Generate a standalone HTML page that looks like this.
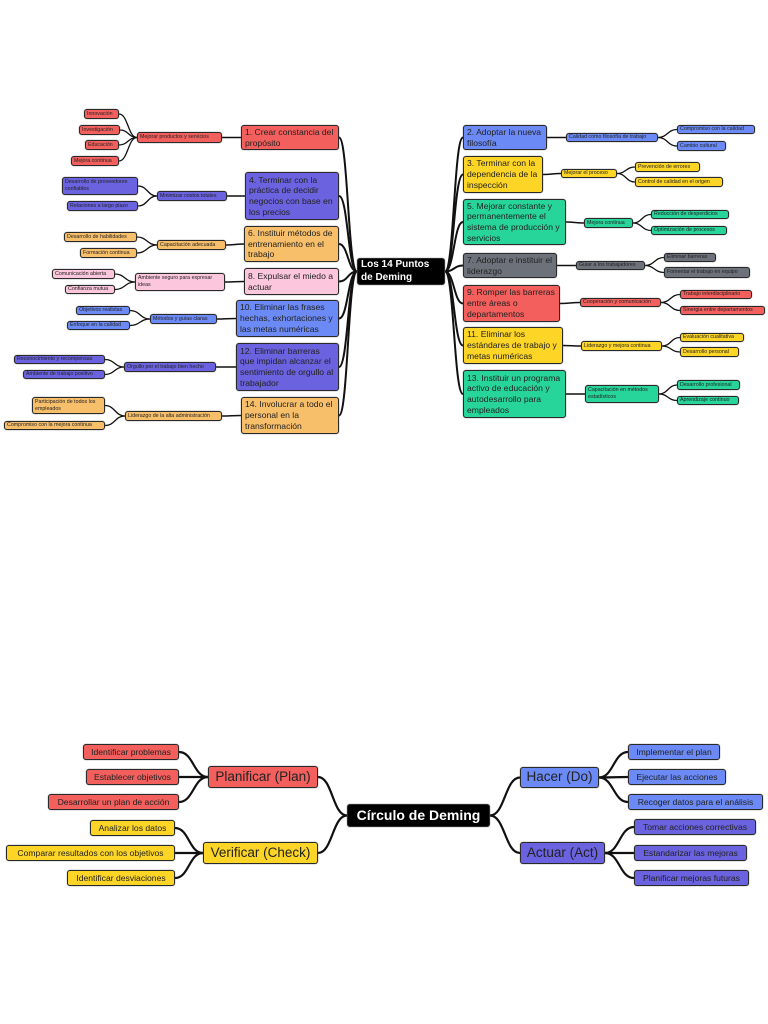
<!DOCTYPE html>
<html><head><meta charset="utf-8"><style>
html,body{margin:0;padding:0;background:#fff;width:768px;height:1024px;overflow:hidden;position:relative;font-family:"Liberation Sans",sans-serif}
.n{position:absolute;box-sizing:border-box;border:1.5px solid #2a2a2a;border-radius:3px;color:#222;overflow:hidden;display:flex;align-items:center;box-shadow:0 0 1px #555}
.n span{display:block;width:100%}
svg{position:absolute;left:0;top:0}
</style></head><body>
<svg id="s" width="768" height="1024"></svg>
<div id="c"></div>
<script>
var R='#f25f5c',B='#6b8af5',P='#6b62df',O='#f8bf6b',K='#fcc6dc',Y='#fdd526',G='#27d49a',Gr='#6c717a';
var nodes={};
function N(id,x1,y1,x2,y2,c,fs,t,al){nodes[id]={x1:x1,y1:y1,x2:x2,y2:y2,c:c,fs:fs,t:t,al:al||'left'};}
N('C',357,258,445,285,'#000',10,'<b style="color:#fff">Los 14 Puntos de Deming</b>');
N('1',241,125,339,150,R,8.6,'1. Crear constancia del propósito');
N('1s',137,132,222,143,R,5.3,'Mejorar productos y servicios');
N('1a',84,109,119,119,R,5.3,'Innovación');N('1b',79,125,120,135,R,5.3,'Investigación');N('1c',85,140,119,150,R,5.3,'Educación');N('1d',71,156,119,166,R,5.3,'Mejora continua');
N('4',245,172,339,220,P,8.6,'4. Terminar con la práctica de decidir negocios con base en los precios');
N('4s',157,191,227,201,P,5.3,'Minimizar costos totales');
N('4a',62,177,138,195,P,5.3,'Desarrollo de proveedores confiables');N('4b',67,201,138,211,P,5.3,'Relaciones a largo plazo');
N('6',244,226,339,262,O,8.6,'6. Instituir métodos de entrenamiento en el trabajo');
N('6s',157,240,226,250,O,5.3,'Capacitación adecuada');
N('6a',64,232,137,242,O,5.3,'Desarrollo de habilidades');N('6b',80,248,137,258,O,5.3,'Formación continua');
N('8',244,268,339,295,K,8.6,'8. Expulsar el miedo a actuar');
N('8s',135,273,225,291,K,5.3,'Ambiente seguro para expresar ideas');
N('8a',52,269,115,279,K,5.3,'Comunicación abierta');N('8b',65,285,115,294,K,5.3,'Confianza mutua');
N('10',236,300,339,337,B,8.6,'10. Eliminar las frases hechas, exhortaciones y las metas numéricas');
N('10s',150,314,217,324,B,5.3,'Métodos y guías claras');
N('10a',76,306,130,315,B,5.3,'Objetivos realistas');N('10b',67,321,130,330,B,5.3,'Enfoque en la calidad');
N('12',236,343,339,391,P,8.6,'12. Eliminar barreras que impidan alcanzar el sentimiento de orgullo al trabajador');
N('12s',124,362,216,372,P,5.3,'Orgullo por el trabajo bien hecho');
N('12a',14,355,105,364,P,5.3,'Reconocimiento y recompensas');N('12b',23,370,105,379,P,5.3,'Ambiente de trabajo positivo');
N('14',241,397,339,434,O,8.6,'14. Involucrar a todo el personal en la transformación');
N('14s',125,411,222,421,O,5.3,'Liderazgo de la alta administración');
N('14a',32,397,105,414,O,5.3,'Participación de todos los empleados');N('14b',4,421,105,430,O,5.3,'Compromiso con la mejora continua');
N('2',463,125,547,150,B,8.6,'2. Adoptar la nueva filosofía');
N('2s',566,133,658,142,B,5.3,'Calidad como filosofía de trabajo');
N('2a',677,125,755,134,B,5.3,'Compromiso con la calidad');N('2b',677,141,726,151,B,5.3,'Cambio cultural');
N('3',463,156,543,193,Y,8.6,'3. Terminar con la dependencia de la inspección');
N('3s',561,169,617,178,Y,5.3,'Mejorar el proceso');
N('3a',635,162,700,172,Y,5.3,'Prevención de errores');N('3b',635,177,723,187,Y,5.3,'Control de calidad en el origen');
N('5',463,199,566,245,G,8.6,'5. Mejorar constante y permanentemente el sistema de producción y servicios');
N('5s',584,218,633,228,G,5.3,'Mejora continua');
N('5a',651,210,729,219,G,5.3,'Reducción de desperdicios');N('5b',651,226,727,235,G,5.3,'Optimización de procesos');
N('7',463,253,557,278,Gr,8.6,'7. Adoptar e instituir el liderazgo');
N('7s',576,261,645,270,Gr,5.3,'Guiar a los trabajadores');
N('7a',664,253,716,262,Gr,5.3,'Eliminar barreras');N('7b',664,267,750,278,Gr,5.3,'Fomentar el trabajo en equipo');
N('9',463,285,560,322,R,8.6,'9. Romper las barreras entre áreas o departamentos');
N('9s',580,298,661,307,R,5.3,'Cooperación y comunicación');
N('9a',680,290,752,299,R,5.3,'Trabajo interdisciplinario');N('9b',680,306,765,315,R,5.3,'Sinergia entre departamentos');
N('11',463,327,563,364,Y,8.6,'11. Eliminar los estándares de trabajo y metas numéricas');
N('11s',581,341,662,351,Y,5.3,'Liderazgo y mejora continua');
N('11a',680,333,744,342,Y,5.3,'Evaluación cualitativa');N('11b',680,347,739,357,Y,5.3,'Desarrollo personal');
N('13',463,370,566,418,G,8.6,'13. Instituir un programa activo de educación y autodesarrollo para empleados');
N('13s',585,385,659,403,G,5.3,'Capacitación en métodos estadísticos');
N('13a',677,380,740,390,G,5.3,'Desarrollo profesional');N('13b',677,396,739,405,G,5.3,'Aprendizaje continuo');
N('D',347,804,490,827,'#000',14,'<b style="color:#fff">Círculo de Deming</b>','center');
N('PL',208,766,318,788,R,13.5,'Planificar (Plan)','center');
N('PLa',83,744,179,760,R,8.6,'Identificar problemas','center');N('PLb',86,769,179,785,R,8.6,'Establecer objetivos','center');N('PLc',48,794,179,810,R,8.6,'Desarrollar un plan de acción','center');
N('VE',203,842,318,864,Y,13.5,'Verificar (Check)','center');
N('VEa',90,820,175,836,Y,8.6,'Analizar los datos','center');N('VEb',6,845,175,861,Y,8.6,'Comparar resultados con los objetivos','center');N('VEc',67,870,175,886,Y,8.6,'Identificar desviaciones','center');
N('HA',520,767,599,788,B,13.5,'Hacer (Do)','center');
N('HAa',628,744,720,760,B,8.6,'Implementar el plan','center');N('HAb',628,769,726,785,B,8.6,'Ejecutar las acciones','center');N('HAc',628,794,763,810,B,8.6,'Recoger datos para el análisis','center');
N('AC',520,842,605,864,P,13.5,'Actuar (Act)','center');
N('ACa',634,819,756,835,P,8.6,'Tomar acciones correctivas','center');N('ACb',634,845,747,861,P,8.6,'Estandarizar las mejoras','center');N('ACc',634,870,749,886,P,8.6,'Planificar mejoras futuras','center');

var paths='';
function L(p,ch,w){var a=nodes[p],b=nodes[ch];var px,py=(a.y1+a.y2)/2,cx,cy=(b.y1+b.y2)/2;
 if(b.x1>=a.x2-2){px=a.x2;cx=b.x1;}else{px=a.x1;cx=b.x2;}
 var m=(px+cx)/2;paths+='<path d="M'+px+' '+py+' C'+m+' '+py+' '+m+' '+cy+' '+cx+' '+cy+'" fill="none" stroke="#111" stroke-width="'+w+'"/>';}
['1','4','6','8','10','12','14','2','3','5','7','9','11','13'].forEach(function(k){
 L('C',k,2);L(k,k+'s',1.5);['a','b','c','d'].forEach(function(s){if(nodes[k+s])L(k+'s',k+s,1.3);});});
['PL','VE','HA','AC'].forEach(function(k){L('D',k,2.2);['a','b','c'].forEach(function(s){L(k,k+s,2.2);});});
document.getElementById('s').innerHTML=paths;
var h='';
for(var k in nodes){var n=nodes[k];var bw=n.fs>=8?1.5:1;var pad=n.al=='center'?0:(n.fs>=8?3:2);
 var ws=n.al=='center'?'white-space:nowrap;':'';
 h+='<div class="n" style="left:'+n.x1+'px;top:'+n.y1+'px;width:'+(n.x2-n.x1)+'px;height:'+(n.y2-n.y1)+'px;background:'+n.c+';font-size:'+n.fs+'px;line-height:'+(n.fs*1.25)+'px;padding:0 '+pad+'px;border-width:'+bw+'px;text-align:'+n.al+';'+ws+'"><span>'+n.t+'</span></div>';}
document.getElementById('c').innerHTML=h;
</script>
</body></html>
